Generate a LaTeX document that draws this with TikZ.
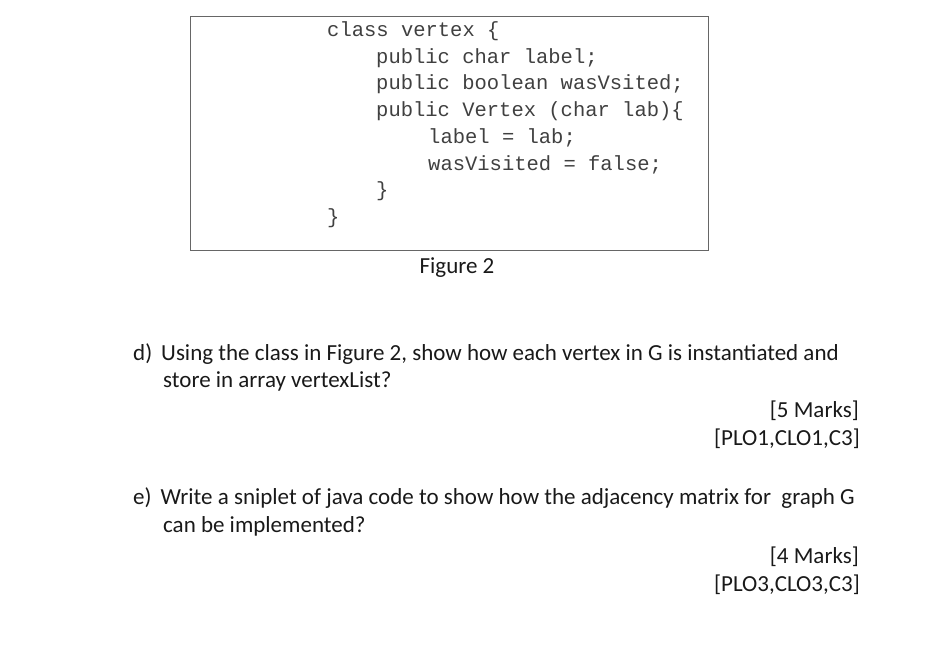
\documentclass[tikz,border=0pt]{standalone}
\usepackage{fontspec}
\setmainfont{Carlito}
\newfontfamily\codefont{Liberation Mono}
\begin{document}
\begin{tikzpicture}[x=1pt,y=-1pt,
  code/.style={anchor=base west,inner sep=0pt,font=\codefont\fontsize{20.5}{22}\selectfont,text=black!75},
  body/.style={anchor=base west,inner sep=0pt,font=\fontsize{23}{26}\selectfont,text=black!90},
  marksline/.style={anchor=base east,inner sep=0pt,font=\fontsize{23}{26}\selectfont,text=black!90}]
\useasboundingbox (0,0) rectangle (931,657);
\draw[black!60,line width=0.9pt] (190,16) rectangle (708,250);
\node[code] (c1) at (327,36) {class vertex \{};
\node[code] (c2) at (376,63) {public char label;};
\node[code] (c3) at (376,89) {public boolean wasVsited;};
\node[code] (c4) at (376,116) {public Vertex (char lab)\{};
\node[code] (c5) at (428,143) {label = lab;};
\node[code] (c6) at (428,170) {wasVisited = false;};
\node[code] (c7) at (376,196) {\}};
\node[code] (c8) at (327,223) {\}};
\node[body,anchor=base] (fig) at (457,273) {Figure 2};
\node[body] (d1) at (133,360) {d)\hspace{9pt}Using the class in Figure 2, show how each vertex in G is instantiated and};
\node[body] (d2) at (163,387) {store in array vertexList?};
\node[marksline] (d3) at (859,417) {[5 Marks]};
\node[marksline] (d4) at (860,445) {[PLO1,CLO1,C3]};
\node[body] (e1) at (133,504) {e)\hspace{9pt}Write a sniplet of java code to show how the adjacency matrix for\ \ graph G};
\node[body] (e2) at (163,532) {can be implemented?};
\node[marksline] (e3) at (859,563) {[4 Marks]};
\node[marksline] (e4) at (860,591) {[PLO3,CLO3,C3]};
\end{tikzpicture}
\end{document}
